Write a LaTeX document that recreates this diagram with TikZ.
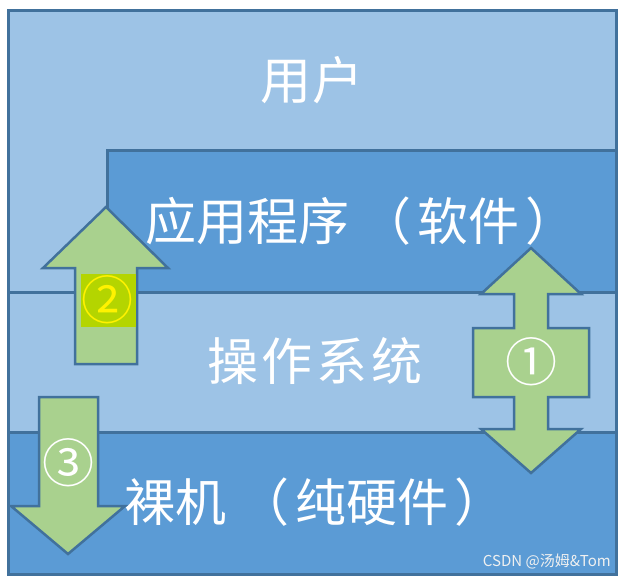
\documentclass[tikz,border=0pt]{standalone}
\usepackage{fontspec}
\newfontfamily\cjk{Noto Sans CJK SC}
\definecolor{lightb}{HTML}{9DC3E6}
\definecolor{darkb}{HTML}{5B9BD5}
\definecolor{edgec}{HTML}{41719C}
\definecolor{grn}{HTML}{A9D18E}
\definecolor{ylw}{HTML}{B4D500}
\tikzset{
  layerbox/.style={draw=edgec, line width=2.5pt, anchor=north west, inner sep=0pt},
  bigarrow/.style={draw=edgec, line width=2.5pt, fill=grn, line join=miter},
  label/.style={text=white, font=\cjk\fontsize{51}{60}\selectfont, inner sep=0pt},
  numlabel/.style={font=\cjk\fontsize{52}{60}\selectfont, inner sep=0pt},
}
\begin{document}
\begin{tikzpicture}[x=1pt,y=-1pt]
\useasboundingbox (0,0) rectangle (629,579);
\fill[white] (0,0) rectangle (629,579);
% layers
\node[layerbox, fill=lightb, minimum width=608pt, minimum height=282pt] (user) at (7,9) {};
\node[layerbox, fill=darkb, minimum width=509pt, minimum height=142pt] (app) at (106,149) {};
\node[layerbox, fill=lightb, minimum width=608pt, minimum height=140pt] (os) at (7,291) {};
\node[layerbox, fill=darkb, minimum width=608pt, minimum height=142pt] (hw) at (7,431) {};
% texts
\node[label] (tuser) at (312,80) {用\hspace{2pt}户};
\node[label] (tapp) at (361,221) {应用程序\hspace{12pt}（\hspace{6pt}软件\hspace{6pt}）};
\node[label] (tos) at (315,361) {操\hspace{4pt}作\hspace{4pt}系\hspace{4pt}统};
\node[label] (thw) at (315,502) {裸机\hspace{12pt}（\hspace{6pt}纯硬件\hspace{6pt}）};
% arrow 2 (up)
\draw[bigarrow] (106,207) -- (168,268) -- (137,268) -- (137,364) -- (75,364) -- (75,268) -- (43,268) -- cycle;
\fill[ylw] (81,274) rectangle (136,327);
\node[numlabel, text=yellow] (n2) at (107,300) {②};
% arrow 1 (up-down callout)
\draw[bigarrow] (531,248) -- (581,294) -- (548,294) -- (548,328) -- (589,328) -- (589,397) -- (548,397) -- (548,429) -- (581,429) -- (531,473) -- (481,429) -- (514,429) -- (514,397) -- (473,397) -- (473,328) -- (514,328) -- (514,294) -- (481,294) -- cycle;
\node[numlabel, text=white] (n1) at (531,362) {①};
% arrow 3 (down)
\draw[bigarrow] (39,397) -- (98,397) -- (98,506) -- (125,506) -- (68,554) -- (11,506) -- (39,506) -- cycle;
\node[numlabel, text=white] (n3) at (68,463) {③};
% watermark
\node[font=\cjk\fontsize{15}{18}\selectfont, text=white!88!gray, anchor=east, inner sep=0pt] (wm) at (611,561) {CSDN @汤姆\&Tom};
\end{tikzpicture}
\end{document}
